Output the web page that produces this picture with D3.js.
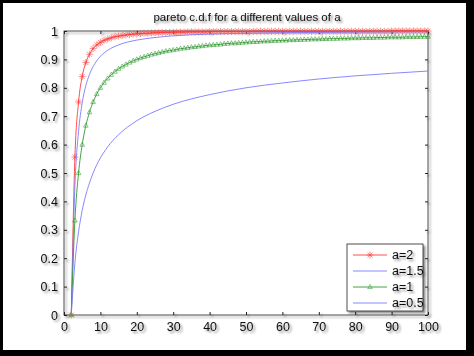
<html>
<head>
<script src="https://d3js.org/d3.v7.min.js"></script>
<style>
  body { margin: 0; background: #000; }
  text { font-family: "Liberation Sans", Arial, sans-serif; fill: #111; }
</style>
</head>
<body>
<svg id="chart" width="474" height="356"></svg>
<script>
// sample positions (x = 2 .. 100)
const xs = d3.range(2, 101);

// a = 2, one value per x
const cdfA2 = [0, 0.556, 0.75, 0.84, 0.889, 0.918, 0.938, 0.951, 0.96, 0.967,
  0.972, 0.976, 0.98, 0.982, 0.984, 0.986, 0.988, 0.989, 0.99, 0.991,
  0.992, 0.992, 0.993, 0.994, 0.994, 0.995, 0.995, 0.995, 0.996, 0.996,
  0.996, 0.996, 0.997, 0.997, 0.997, 0.997, 0.997, 0.997, 0.998, 0.998,
  0.998, 0.998, 0.998, 0.998, 0.998, 0.998, 0.998, 0.998, 0.998, 0.998,
  0.999, 0.999, 0.999, 0.999, 0.999, 0.999, 0.999, 0.999, 0.999, 0.999,
  0.999, 0.999, 0.999, 0.999, 0.999, 0.999, 0.999, 0.999, 0.999, 0.999,
  0.999, 0.999, 0.999, 0.999, 0.999, 0.999, 0.999, 0.999, 0.999, 0.999,
  0.999, 0.999, 0.999, 0.999, 0.999, 0.999, 0.999, 0.999, 1, 1,
  1, 1, 1, 1, 1, 1, 1, 1, 1];

// a = 1, one value per x
const cdfA1 = [0, 0.333, 0.5, 0.6, 0.667, 0.714, 0.75, 0.778, 0.8, 0.818,
  0.833, 0.846, 0.857, 0.867, 0.875, 0.882, 0.889, 0.895, 0.9, 0.905,
  0.909, 0.913, 0.917, 0.92, 0.923, 0.926, 0.929, 0.931, 0.933, 0.935,
  0.938, 0.939, 0.941, 0.943, 0.944, 0.946, 0.947, 0.949, 0.95, 0.951,
  0.952, 0.953, 0.955, 0.956, 0.957, 0.957, 0.958, 0.959, 0.96, 0.961,
  0.962, 0.962, 0.963, 0.964, 0.964, 0.965, 0.966, 0.966, 0.967, 0.967,
  0.968, 0.968, 0.969, 0.969, 0.97, 0.97, 0.971, 0.971, 0.971, 0.972,
  0.972, 0.973, 0.973, 0.973, 0.974, 0.974, 0.974, 0.975, 0.975, 0.975,
  0.976, 0.976, 0.976, 0.976, 0.977, 0.977, 0.977, 0.978, 0.978, 0.978,
  0.978, 0.978, 0.979, 0.979, 0.979, 0.979, 0.98, 0.98, 0.98];

// the two plain blue curves, read at fewer x
const xsLine = [2, 3, 4, 5, 6, 7, 8, 9, 10, 12, 15, 20, 25, 30, 40, 50, 60, 70, 80, 90, 100];
const cdfA15 = [0, 0.456, 0.646, 0.747, 0.808, 0.847, 0.875, 0.895, 0.911, 0.932, 0.951,
  0.968, 0.977, 0.983, 0.989, 0.992, 0.994, 0.995, 0.996, 0.997, 0.997];
const cdfA05 = [0, 0.184, 0.293, 0.368, 0.423, 0.465, 0.5, 0.529, 0.553, 0.592, 0.635,
  0.684, 0.717, 0.742, 0.776, 0.8, 0.817, 0.831, 0.842, 0.851, 0.859];

const xTicks = [0, 10, 20, 30, 40, 50, 60, 70, 80, 90, 100];
const yTicks = [0, 0.1, 0.2, 0.3, 0.4, 0.5, 0.6, 0.7, 0.8, 0.9, 1];
const legendLabels = ['a=2', 'a=1.5', 'a=1', 'a=0.5'];

const svg = d3.select('svg#chart');
const margins = {top: 31, right: 46, bottom: 41, left: 64};
const width = 474, height = 356;
const chartWidth = 428 - margins.left;
const chartHeight = 315 - margins.top;

// shadow filter for text and axes
const defs = svg.append('defs');
const f = defs.append('filter').attr('id', 'shadow')
  .attr('x', '-20%').attr('y', '-20%').attr('width', '150%').attr('height', '160%');
f.append('feGaussianBlur').attr('in', 'SourceAlpha').attr('stdDeviation', 1.3).attr('result', 'b');
f.append('feOffset').attr('in', 'b').attr('dx', 2).attr('dy', 2).attr('result', 'o');
f.append('feComponentTransfer').attr('in', 'o').attr('result', 'c')
  .append('feFuncA').attr('type', 'linear').attr('slope', 0.45);
const m = f.append('feMerge');
m.append('feMergeNode').attr('in', 'c');
m.append('feMergeNode').attr('in', 'SourceGraphic');

// black frame, white page
svg.append('rect').attr('width', width).attr('height', height).attr('fill', '#000');
svg.append('rect').attr('x', 3).attr('y', 3).attr('width', 463).attr('height', 347).attr('fill', '#fff');

const xScale = d3.scaleLinear().domain([0, 100]).range([0, chartWidth]);
const yScale = d3.scaleLinear().domain([0, 1]).range([chartHeight, 0]);

const chartArea = svg.append('g')
  .attr('transform', `translate(${margins.left},${margins.top})`);

// title
svg.append('text')
  .attr('x', margins.left + chartWidth / 2 + 1).attr('y', 21)
  .attr('text-anchor', 'middle').attr('font-size', 11.5)
  .attr('filter', 'url(#shadow)')
  .text('pareto c.d.f for a different values of a');

// axes box with inward ticks
const axes = chartArea.append('g').attr('filter', 'url(#shadow)');
axes.append('rect').attr('width', chartWidth).attr('height', chartHeight)
  .attr('fill', 'none').attr('stroke', '#222').attr('stroke-width', 0.8);

axes.append('g').attr('transform', `translate(0,${chartHeight})`)
  .call(d3.axisBottom(xScale).tickValues(xTicks).tickSize(-3).tickPadding(7).tickFormat(d3.format('d')));
axes.append('g')
  .call(d3.axisTop(xScale).tickValues(xTicks).tickSize(-3).tickFormat(''));
axes.append('g')
  .call(d3.axisLeft(yScale).tickValues(yTicks).tickSize(-3).tickPadding(6).tickFormat(d => d3.format('')(d)));
axes.append('g').attr('transform', `translate(${chartWidth},0)`)
  .call(d3.axisRight(yScale).tickValues(yTicks).tickSize(-3).tickFormat(''));
axes.selectAll('.domain').remove();
axes.selectAll('.tick line').attr('stroke', '#222');
axes.selectAll('.tick text').attr('font-size', 12.5).attr('fill', '#111')
  .attr('font-family', '"Liberation Sans", Arial, sans-serif');

// series
const series = [
  {x: xs, y: cdfA2, color: '#ff3b3b', marker: 'star'},
  {x: xsLine, y: cdfA15, color: '#7a7aff', marker: null},
  {x: xs, y: cdfA1, color: '#2f9a2f', marker: 'tri'},
  {x: xsLine, y: cdfA05, color: '#7a7aff', marker: null}
];

const line = d3.line()
  .x(d => xScale(d[0])).y(d => yScale(d[1]))
  .curve(d3.curveMonotoneX);

const starPath = 'M-3.5,0H3.5M0,-3.5V3.5M-2.5,-2.5L2.5,2.5M-2.5,2.5L2.5,-2.5';
const triPath = 'M0,-2.6L2.3,1.6H-2.3Z';

function drawMarker(g, type, color) {
  g.append('path')
    .attr('d', type === 'star' ? starPath : triPath)
    .attr('fill', 'none').attr('stroke', color)
    .attr('stroke-width', 0.8).attr('stroke-opacity', 0.7);
}

series.forEach(s => {
  const pts = s.x.map((x, i) => [x, s.y[i]]);
  chartArea.append('path').datum(pts)
    .attr('d', line).attr('fill', 'none')
    .attr('stroke', s.color).attr('stroke-width', 0.9);
  if (s.marker) {
    pts.forEach(p => {
      const g = chartArea.append('g')
        .attr('transform', `translate(${xScale(p[0])},${yScale(p[1])})`);
      drawMarker(g, s.marker, s.color);
    });
  }
});

// legend
const legend = svg.append('g').attr('transform', 'translate(347,244)');
legend.append('rect').attr('width', 76).attr('height', 67)
  .attr('fill', '#fff').attr('stroke', '#222').attr('stroke-width', 0.8)
  .attr('filter', 'url(#shadow)');
series.forEach((s, i) => {
  const y = 11 + i * 16;
  legend.append('line').attr('x1', 6).attr('x2', 40).attr('y1', y).attr('y2', y)
    .attr('stroke', s.color).attr('stroke-width', 0.9);
  if (s.marker) {
    const g = legend.append('g').attr('transform', `translate(23,${y})`);
    drawMarker(g, s.marker, s.color);
  }
  legend.append('text').attr('x', 45).attr('y', y + 4)
    .attr('font-size', 12.5).attr('filter', 'url(#shadow)')
    .text(legendLabels[i]);
});
</script>
</body>
</html>
